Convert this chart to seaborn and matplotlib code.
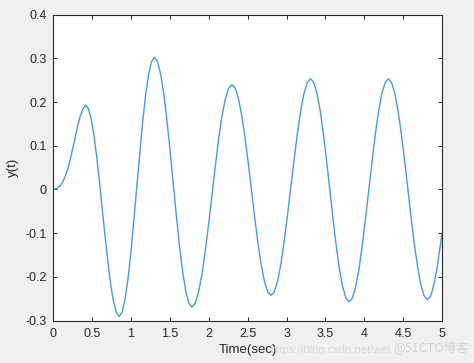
import matplotlib
matplotlib.use("Agg")
import matplotlib.pyplot as plt
import seaborn as sns
import pandas as pd

# Values
time_sec = [
    0.000, 0.040, 0.086, 0.120, 0.150, 0.185, 0.215, 0.250, 0.279, 0.310, 0.343, 0.380, 0.416,
    0.452, 0.488, 0.524, 0.560, 0.596, 0.632, 0.668, 0.704, 0.740, 0.776, 0.812, 0.848,
    0.886, 0.923, 0.961, 0.999, 1.036, 1.074, 1.112, 1.149, 1.187, 1.225, 1.262, 1.300,
    1.340, 1.380, 1.421, 1.461, 1.501, 1.541, 1.581, 1.621, 1.662, 1.702, 1.742, 1.782,
    1.825, 1.868, 1.911, 1.954, 1.997, 2.040, 2.082, 2.125, 2.168, 2.211, 2.254, 2.297,
    2.339, 2.381, 2.423, 2.465, 2.507, 2.549, 2.590, 2.632, 2.674, 2.716, 2.758, 2.800,
    2.843, 2.885, 2.928, 2.970, 3.013, 3.055, 3.098, 3.140, 3.183, 3.225, 3.268, 3.310,
    3.351, 3.393, 3.434, 3.475, 3.516, 3.558, 3.599, 3.640, 3.681, 3.723, 3.764, 3.805,
    3.847, 3.889, 3.931, 3.973, 4.015, 4.058, 4.100, 4.142, 4.184, 4.226, 4.268, 4.310,
    4.352, 4.394, 4.435, 4.477, 4.519, 4.561, 4.603, 4.645, 4.687, 4.728, 4.770, 4.812,
    4.854, 4.895, 4.937, 4.979, 5.000,
]
y_values = [
    0.000, 0.002, 0.008, 0.017, 0.029, 0.046, 0.067, 0.094, 0.117, 0.143, 0.166, 0.184, 0.193,
    0.185, 0.161, 0.122, 0.072, 0.014, -0.049, -0.111, -0.169, -0.220, -0.258, -0.282, -0.290,
    -0.280, -0.250, -0.204, -0.142, -0.070, 0.006, 0.082, 0.154, 0.216, 0.262, 0.292, 0.302,
    0.292, 0.264, 0.219, 0.159, 0.090, 0.017, -0.057, -0.126, -0.186, -0.231, -0.259, -0.269,
    -0.260, -0.235, -0.195, -0.142, -0.080, -0.015, 0.051, 0.113, 0.166, 0.206, 0.231, 0.240,
    0.232, 0.208, 0.170, 0.120, 0.061, -0.001, -0.063, -0.122, -0.172, -0.210, -0.234, -0.242,
    -0.234, -0.209, -0.170, -0.118, -0.058, 0.006, 0.069, 0.129, 0.181, 0.220, 0.245, 0.253,
    0.244, 0.219, 0.179, 0.126, 0.064, -0.002, -0.068, -0.130, -0.183, -0.223, -0.248, -0.257,
    -0.248, -0.223, -0.183, -0.130, -0.068, -0.002, 0.064, 0.126, 0.179, 0.219, 0.244, 0.253,
    0.244, 0.219, 0.179, 0.127, 0.066, 0.001, -0.065, -0.126, -0.178, -0.218, -0.243, -0.252,
    -0.244, -0.218, -0.179, -0.127, -0.100,
]
x_ticks = [0, 0.5, 1, 1.5, 2, 2.5, 3, 3.5, 4, 4.5, 5]
x_tick_labels = ["0", "0.5", "1", "1.5", "2", "2.5", "3", "3.5", "4", "4.5", "5"]
y_ticks = [-0.3, -0.2, -0.1, 0, 0.1, 0.2, 0.3, 0.4]
y_tick_labels = ["-0.3", "-0.2", "-0.1", "0", "0.1", "0.2", "0.3", "0.4"]

df = pd.DataFrame({"t": time_sec, "y": y_values})

plt.rcParams["font.family"] = ["Liberation Sans", "DejaVu Sans"]
plt.rcParams["lines.solid_joinstyle"] = "round"

fig = plt.figure(figsize=(4.74, 3.63), dpi=100, facecolor="#f0f0f0")
ax = fig.add_axes([0.1125, 0.1165, 0.82, 0.8435])
ax.set_facecolor("white")

sns.lineplot(data=df, x="t", y="y", ax=ax, sort=False, color="#4a9cd2",
             linewidth=1.0, estimator=None)

ax.set_xlim(0, 5)
ax.set_ylim(-0.3, 0.4)
ax.set_xticks(x_ticks)
ax.set_xticklabels(x_tick_labels)
ax.set_yticks(y_ticks)
ax.set_yticklabels(y_tick_labels)

for s in ax.spines.values():
    s.set_color("#262626")
    s.set_linewidth(0.8)
ax.tick_params(direction="in", length=3, width=0.7, color="#262626",
               labelcolor="#262626", labelsize=9, top=True, right=True, pad=5)

ax.set_xlabel("Time(sec)", fontsize=9.5, color="#262626", labelpad=3)
ax.set_ylabel("y(t)", fontsize=9.5, color="#262626", labelpad=4)

# faint watermark
fig.text(0.57, 0.035, "https://blog.csdn.net/wei", fontsize=8, color="#dcdcdc",
         ha="left", va="center", family=["Liberation Sans", "DejaVu Sans"])
fig.text(0.99, 0.045, "@51CTO博客", fontsize=9, color="#d6d6d6",
         ha="right", va="center", family=["Noto Sans CJK SC", "DejaVu Sans"])

fig.savefig("out.png", dpi=100, facecolor=fig.get_facecolor())
